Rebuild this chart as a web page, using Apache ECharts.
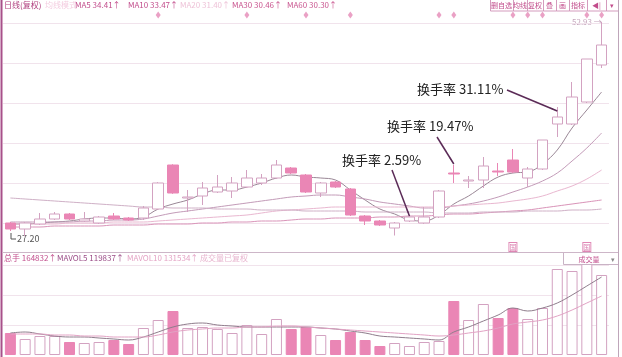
<!DOCTYPE html>
<html><head><meta charset="utf-8">
<script src="https://cdn.jsdelivr.net/npm/echarts/dist/echarts.min.js"></script>
<style>html,body{margin:0;padding:0;background:#fff}#c{width:622px;height:357px}</style>
</head><body><div id="c"></div><script>
// ---- data ----
const days = ['1','2','3','4','5','6','7','8','9','10','11','12','13','14','15','16','17','18','19','20','21','22','23','24','25','26','27','28','29','30','31','32','33','34','35','36','37','38','39','40','41'];
const opens  = [28.80,28.08,28.68,29.28,29.88,29.04,28.80,29.64,29.40,29.40,30.48,35.76,31.80,32.04,32.52,32.64,33.12,33.60,34.20,35.40,34.56,32.40,33.72,32.88,29.64,29.04,28.20,29.04,28.80,29.52,34.80,33.84,33.96,35.04,36.36,34.20,35.28,40.68,40.68,43.32,47.76];
const closes = [28.08,28.80,29.28,29.88,29.28,29.28,29.52,29.28,29.16,30.60,33.60,32.40,31.92,33.00,33.12,33.60,34.20,34.20,35.76,34.80,32.52,33.60,33.12,29.76,29.04,28.56,28.80,29.52,29.52,32.64,34.68,33.96,35.64,34.92,34.92,35.28,38.76,41.52,43.92,48.48,50.16];
const lows   = [27.84,27.20,28.56,29.16,29.16,28.92,28.68,29.16,29.04,29.16,30.40,32.30,30.12,30.96,32.40,31.80,33.00,33.36,34.08,34.68,32.40,31.92,33.00,29.64,28.56,28.44,27.30,28.92,28.70,29.40,33.60,33.00,33.00,34.44,34.80,33.12,35.16,39.12,40.56,43.20,47.40];
const highs  = [28.92,28.92,30.00,30.12,30.00,30.12,29.64,30.00,29.52,30.84,33.70,35.85,32.76,33.72,34.56,34.32,35.16,34.68,36.36,35.52,34.68,33.72,33.84,33.00,29.76,29.16,28.92,29.76,30.72,32.76,35.76,34.44,36.72,36.00,37.68,35.52,38.76,42.72,45.72,48.48,52.93];
const ma5  = [28.68,28.68,28.80,28.92,29.04,29.28,29.40,29.40,29.28,29.52,30.48,31.08,31.56,32.28,32.76,32.76,33.12,33.60,34.20,34.56,34.32,34.20,33.96,32.76,31.56,30.48,29.88,29.16,29.04,29.76,31.08,32.04,33.24,34.32,34.80,34.92,35.88,37.56,40.20,42.36,44.52];
const ma10 = [28.92,28.92,28.92,28.92,28.92,29.04,29.04,29.16,29.16,29.28,29.64,30.00,30.24,30.48,30.72,30.96,31.20,31.44,31.68,31.92,32.04,32.16,32.16,31.92,31.68,31.32,31.08,30.84,30.60,30.60,30.84,31.08,31.44,31.92,32.52,33.12,33.84,34.80,36.24,37.80,39.60];
const ma20 = [28.68,28.68,28.68,28.68,28.80,28.80,28.80,28.92,28.92,28.92,29.04,29.16,29.28,29.40,29.52,29.64,29.76,30.00,30.24,30.36,30.48,30.60,30.72,30.72,30.72,30.72,30.72,30.72,30.72,30.72,30.84,30.96,31.08,31.20,31.44,31.68,32.04,32.64,33.24,34.08,35.16];
const ma30 = [28.32,28.32,28.32,28.44,28.44,28.44,28.44,28.56,28.56,28.56,28.68,28.68,28.68,28.80,28.80,28.92,28.92,29.04,29.04,29.16,29.28,29.28,29.40,29.40,29.40,29.52,29.52,29.64,29.64,29.76,29.88,29.88,30.00,30.12,30.24,30.36,30.60,30.84,31.08,31.32,31.56];
const ma60 = [31.80,31.68,31.56,31.44,31.32,31.20,31.08,30.96,30.84,30.72,30.72,30.60,30.60,30.60,30.48,30.48,30.48,30.36,30.36,30.36,30.24,30.24,30.24,30.24,30.12,30.12,30.12,30.12,30.12,30.00,30.00,30.00,30.12,30.12,30.12,30.24,30.24,30.24,30.36,30.36,30.48];
const volumes = [45320,32960,39140,39140,26780,24720,26780,30900,22660,55620,72100,90640,55620,57680,53560,45320,61800,43260,74160,53560,57680,41200,30900,47380,30900,18540,24720,18540,26780,28840,111240,72100,105060,76220,96820,74160,96820,177160,173040,187460,164832];
const mavol5  = [45320,47380,43260,39140,37080,37080,35020,32960,30900,37080,47380,57680,63860,65920,61800,59740,57680,57680,57680,57680,57680,55620,53560,49440,45320,39140,37080,35020,32960,30900,47380,57680,70040,82400,96820,90640,96820,107120,123600,142140,160680];
const mavol10 = [43260,43260,43260,41200,41200,39140,39140,37080,37080,37080,41200,47380,51500,53560,55620,55620,57680,57680,59740,59740,57680,55620,53560,51500,49440,47380,45320,43260,41200,39140,41200,45320,49440,55620,63860,67980,72100,80340,92700,107120,121540];
const infoMarkIdx = [10,16,20,23,29,30,34,35,36,39,40];
const guoIdx = [34,39];
const annoIdx = [27,30,37];
const annoTip = [29.64,35.88,42.24];
const annoText = ['换手率 2.59%','换手率 19.47%','换手率 31.11%'];
const maLegend = ['MA5 34.41↑','MA10 33.47↑','MA20 31.40↑','MA30 30.46↑','MA60 30.30↑'];
const volLegend = ['总手 164832↑','MAVOL5 119837↑','MAVOL10 131534↑','成交量已复权'];
const maxLabel = '52.93', minLabel = '27.20';

// ---- layout / style ----
const UP = '#d3a2c1', DOWN = '#ea86b5', PINK = '#c24d8c';
const FONT = '"Noto Sans CJK SC","Noto Sans",sans-serif';
const annoPos = [[342,160,392,170],[387,126,437,137],[417,89,507,90]]; // text x,y ; arrow start x,y
const maLegendPos = [[75,'#c24d8c'],[128,'#c24d8c'],[180,'#eec3d8'],[232,'#c9558f'],[287,'#c9558f']];
const volLegendPos = [[4,'#c24d8c'],[57,'#9b4b87'],[127,'#e4a3c5'],[200,'#e8b5cf']];
const buttons = [[490,513,'删自选'],[513,527,'均线'],[527,543,'复权'],[543,556,'叠'],[556,569,'画'],[569,587,'指标'],[587,606,'◀|'],[606,618,'▾']];

const candleData = days.map((d,i)=>[opens[i],closes[i],lows[i],highs[i]]);
const volData = volumes.map((v,i)=>({value:v, itemStyle: closes[i]>=opens[i] ? {color:'#fff',borderColor:UP,borderWidth:1} : {color:DOWN,borderColor:DOWN,borderWidth:1}}));

const chart = echarts.init(document.getElementById('c'), null, {renderer:'canvas'});
const graphic = [];
graphic.push({type:'line',shape:{x1:1.5,y1:0,x2:1.5,y2:357},style:{stroke:'#a8508a',lineWidth:2},z:100});
graphic.push({type:'line',shape:{x1:618.5,y1:0,x2:618.5,y2:357},style:{stroke:'#bfa6ba',lineWidth:1},z:100});
graphic.push({type:'line',shape:{x1:2,y1:252.5,x2:618,y2:252.5},style:{stroke:'#cdb6c8',lineWidth:1},z:100});
graphic.push({type:'text',left:4,top:1,style:{text:'日线(复权)',fill:'#b0407f',font:'8px '+FONT}});
graphic.push({type:'text',left:45,top:1,style:{text:'均线模式',fill:'#f4cde0',font:'8px '+FONT}});
maLegend.forEach((t,i)=>graphic.push({type:'text',left:maLegendPos[i][0],top:1,style:{text:t,fill:maLegendPos[i][1],font:'8px '+FONT}}));
volLegend.forEach((t,i)=>graphic.push({type:'text',left:volLegendPos[i][0],top:254,style:{text:t,fill:volLegendPos[i][1],font:'8px '+FONT}}));
buttons.forEach(b=>{
  graphic.push({type:'rect',shape:{x:b[0]+0.5,y:-1,width:b[1]-b[0],height:12},style:{fill:'#fff',stroke:'#d49bbd',lineWidth:1},z:50});
  graphic.push({type:'text',x:(b[0]+b[1])/2,y:5,style:{text:b[2],fill:PINK,font:'7px '+FONT,align:'center',verticalAlign:'middle'},z:51});
});
graphic.push({type:'rect',shape:{x:563.5,y:252.5,width:55,height:12},style:{fill:'#fff',stroke:'#c9b3c5',lineWidth:1},z:50});
graphic.push({type:'text',x:589,y:259,style:{text:'成交量',fill:PINK,font:'7px '+FONT,align:'center',verticalAlign:'middle'},z:51});
graphic.push({type:'text',x:613,y:259,style:{text:'▾',fill:'#888',font:'7px '+FONT,align:'center',verticalAlign:'middle'},z:51});
annoText.forEach((t,i)=>graphic.push({type:'text',x:annoPos[i][0],y:annoPos[i][1],style:{text:t,fill:'#222',font:'13px '+FONT,verticalAlign:'middle'},z:60}));
graphic.push({type:'text',x:572,y:22,style:{text:maxLabel+' →',fill:'#c4a4bb',font:'8px '+FONT,verticalAlign:'middle'}});
graphic.push({type:'polyline',shape:{points:[[11,233],[11,239],[16,239]]},style:{stroke:'#555',lineWidth:1,fill:null}});
graphic.push({type:'text',x:17,y:239,style:{text:minLabel,fill:'#555',font:'9px '+FONT,verticalAlign:'middle'}});

const maLine = (name,data,color)=>({name,type:'line',data,xAxisIndex:0,yAxisIndex:0,showSymbol:false,smooth:0.4,clip:false,lineStyle:{color,width:1},z:3});
const option = {
  animation:false,
  backgroundColor:'#fff',
  grid:[{left:3,right:13,top:23,height:240},{left:3,right:13,top:265,height:90}],
  xAxis:[
    {type:'category',data:days,gridIndex:0,boundaryGap:true,axisLine:{show:false},axisTick:{show:false},axisLabel:{show:false},splitLine:{show:false}},
    {type:'category',data:days,gridIndex:1,boundaryGap:true,axisLine:{show:false},axisTick:{show:false},axisLabel:{show:false},splitLine:{show:false}}
  ],
  yAxis:[
    {type:'value',gridIndex:0,min:24,max:52.8,interval:4.8,axisLine:{show:false},axisTick:{show:false},axisLabel:{show:false},splitLine:{show:true,showMinLine:false,lineStyle:{color:'#f1e3ec',width:1}}},
    {type:'value',gridIndex:1,min:0,max:185400,interval:61800,axisLine:{show:false},axisTick:{show:false},axisLabel:{show:false},splitLine:{show:true,showMinLine:false,lineStyle:{color:'#f1e3ec',width:1}}}
  ],
  graphic,
  series:[
    {type:'candlestick',data:candleData,xAxisIndex:0,yAxisIndex:0,barWidth:11,clip:false,z:4,
     itemStyle:{color:'#fff',color0:DOWN,borderColor:UP,borderColor0:DOWN,borderWidth:1},
     markLine:{silent:true,symbol:['none','arrow'],symbolSize:[1,8],label:{show:false},animation:false,
       lineStyle:{color:'#5b2b57',width:1.5,type:'solid'},
       data:annoIdx.map((k,i)=>[{x:annoPos[i][2],y:annoPos[i][3]},{coord:[days[k],annoTip[i]]}])}
    },
    maLine('MA5',ma5,'#9a8796'),
    maLine('MA10',ma10,'#c39bb8'),
    maLine('MA20',ma20,'#e9b7d0'),
    maLine('MA30',ma30,'#d993b8'),
    maLine('MA60',ma60,'#cfb0c6'),
    {type:'scatter',xAxisIndex:0,yAxisIndex:0,clip:false,symbol:'diamond',symbolSize:[5,7],itemStyle:{color:'#e58ab6'},
     data:infoMarkIdx.map(k=>[days[k],53.76]),z:5},
    {type:'scatter',xAxisIndex:0,yAxisIndex:0,clip:false,symbol:'rect',symbolSize:[8,9],itemStyle:{color:'#fff',borderColor:'#d86aa2',borderWidth:1},
     label:{show:true,position:'inside',formatter:'国',color:'#d05a98',fontSize:7,fontFamily:FONT},
     data:guoIdx.map(k=>[days[k],25.92]),z:5},
    {type:'bar',data:volData,xAxisIndex:1,yAxisIndex:1,barWidth:11,clip:false,z:2},
    {type:'line',data:mavol5,xAxisIndex:1,yAxisIndex:1,showSymbol:false,smooth:0.4,lineStyle:{color:'#8f7d8c',width:1},z:3},
    {type:'line',data:mavol10,xAxisIndex:1,yAxisIndex:1,showSymbol:false,smooth:0.4,lineStyle:{color:'#e2a2c4',width:1},z:3}
  ]
};
chart.setOption(option);
</script></body></html>
